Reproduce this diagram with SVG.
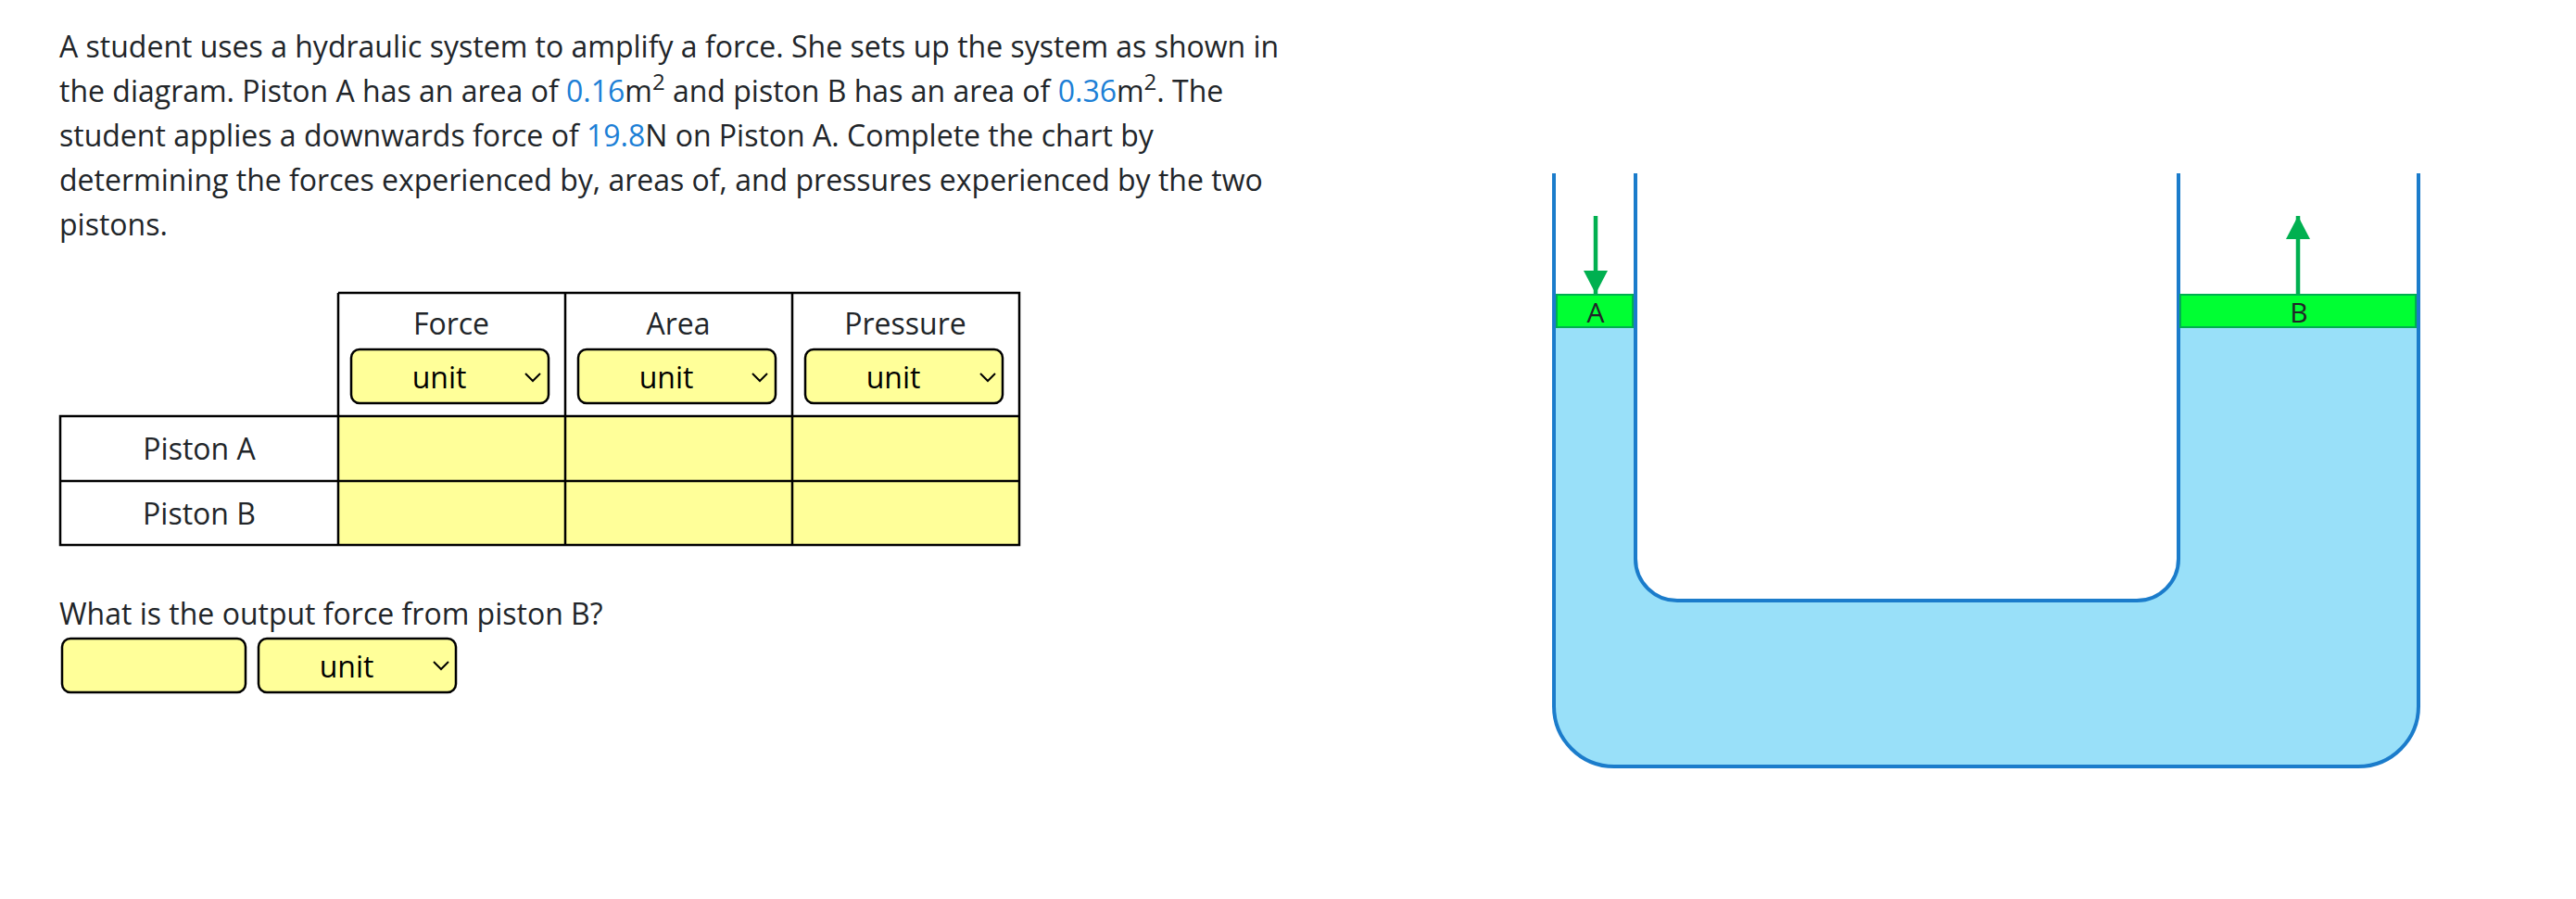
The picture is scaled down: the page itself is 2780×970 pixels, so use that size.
<svg xmlns="http://www.w3.org/2000/svg" width="2780" height="970" viewBox="0 0 2780 970">
<style>
text{font-family:"Open Sans","Noto Sans","Liberation Sans",sans-serif;font-size:32px;fill:#212529}
.num{fill:#1c7fd6}
.c{text-anchor:middle}
.u{fill:#000}
.grid{stroke:#000;stroke-width:2.5;fill:none}
.cell{fill:#ffff99}
.box{fill:#ffff99;stroke:#000;stroke-width:2.5}
.chev{fill:none;stroke:#000;stroke-width:2}
.wall{fill:none;stroke:#1b7ccb;stroke-width:4}
.water{fill:#99e0f9}
.piston{fill:#00ff33;stroke:#00b050;stroke-width:2}
.lab{font-size:30px}
.force{stroke:#00b050;stroke-width:4.5;fill:none;marker-end:url(#head)}
</style>
<defs>
<marker id="head" markerUnits="userSpaceOnUse" markerWidth="26" markerHeight="28" refX="25" refY="14" orient="auto"><path d="M0 1L25 14L0 27Z" fill="#00b050"/></marker>
<g id="chevron"><path class="chev" d="M-8 -4L0 4L8 -4"/></g>
</defs>
<rect width="2780" height="970" fill="#fff"/>
<g id="question">
<text x="64" y="62">A student uses a hydraulic system to amplify a force. She sets up the system as shown in</text>
<text x="64" y="110">the diagram. Piston A has an area of <tspan class="num">0.16</tspan>m<tspan font-size="24" dy="-13">2</tspan><tspan dy="13"> and piston B has an area of </tspan><tspan class="num">0.36</tspan>m<tspan font-size="24" dy="-13">2</tspan><tspan dy="13">. The</tspan></text>
<text x="64" y="158">student applies a downwards force of <tspan class="num">19.8</tspan>N on Piston A. Complete the chart by</text>
<text x="64" y="206">determining the forces experienced by, areas of, and pressures experienced by the two</text>
<text x="64" y="254">pistons.</text>
</g>
<g id="table">
<rect class="cell" x="365" y="449" width="735" height="140"/>
<path class="grid" d="M365 316H1100V588H65V449H1100M65 519H1100M365 316V588M610 316V588M855 316V588"/>
<text class="c" x="487" y="361">Force</text>
<text class="c" x="732" y="361">Area</text>
<text class="c" x="977" y="361">Pressure</text>
<text class="c" x="215" y="496">Piston A</text>
<text class="c" x="215" y="566">Piston B</text>
</g>
<g id="select-force">
<rect class="box" x="379" y="377" width="213" height="58" rx="9"/>
<text class="c u" x="474" y="419">unit</text>
<use href="#chevron" x="575" y="407"/>
</g>
<g id="select-area">
<rect class="box" x="624" y="377" width="213" height="58" rx="9"/>
<text class="c u" x="719" y="419">unit</text>
<use href="#chevron" x="820" y="407"/>
</g>
<g id="select-pressure">
<rect class="box" x="869" y="377" width="213" height="58" rx="9"/>
<text class="c u" x="964" y="419">unit</text>
<use href="#chevron" x="1066" y="407"/>
</g>
<g id="output">
<text x="64" y="674">What is the output force from piston B?</text>
<rect class="box" x="67" y="689" width="198" height="58" rx="9"/>
<rect class="box" x="279" y="689" width="213" height="58" rx="9"/>
<text class="c u" x="374" y="731">unit</text>
<use href="#chevron" x="476" y="718"/>
</g>
<g id="vessel">
<path class="water" d="M1677 353H1765V603A45 45 0 0 0 1810 648H2306A45 45 0 0 0 2351 603V353H2610V762A65 65 0 0 1 2545 827H1742A65 65 0 0 1 1677 762Z"/>
<path class="wall" d="M1677 187V762A65 65 0 0 0 1742 827H2545A65 65 0 0 0 2610 762V187"/>
<path class="wall" d="M1765 187V603A45 45 0 0 0 1810 648H2306A45 45 0 0 0 2351 603V187"/>
</g>
<g id="piston-a">
<rect class="piston" x="1680" y="318" width="82" height="35"/>
<text class="c lab" x="1722" y="348">A</text>
</g>
<g id="piston-b">
<rect class="piston" x="2353" y="318" width="254" height="35"/>
<text class="c lab" x="2481" y="348">B</text>
</g>
<g id="connectors">
<path class="force" d="M1722 233V317"/>
<path class="force" d="M2480 318V233"/>
</g>
</svg>
